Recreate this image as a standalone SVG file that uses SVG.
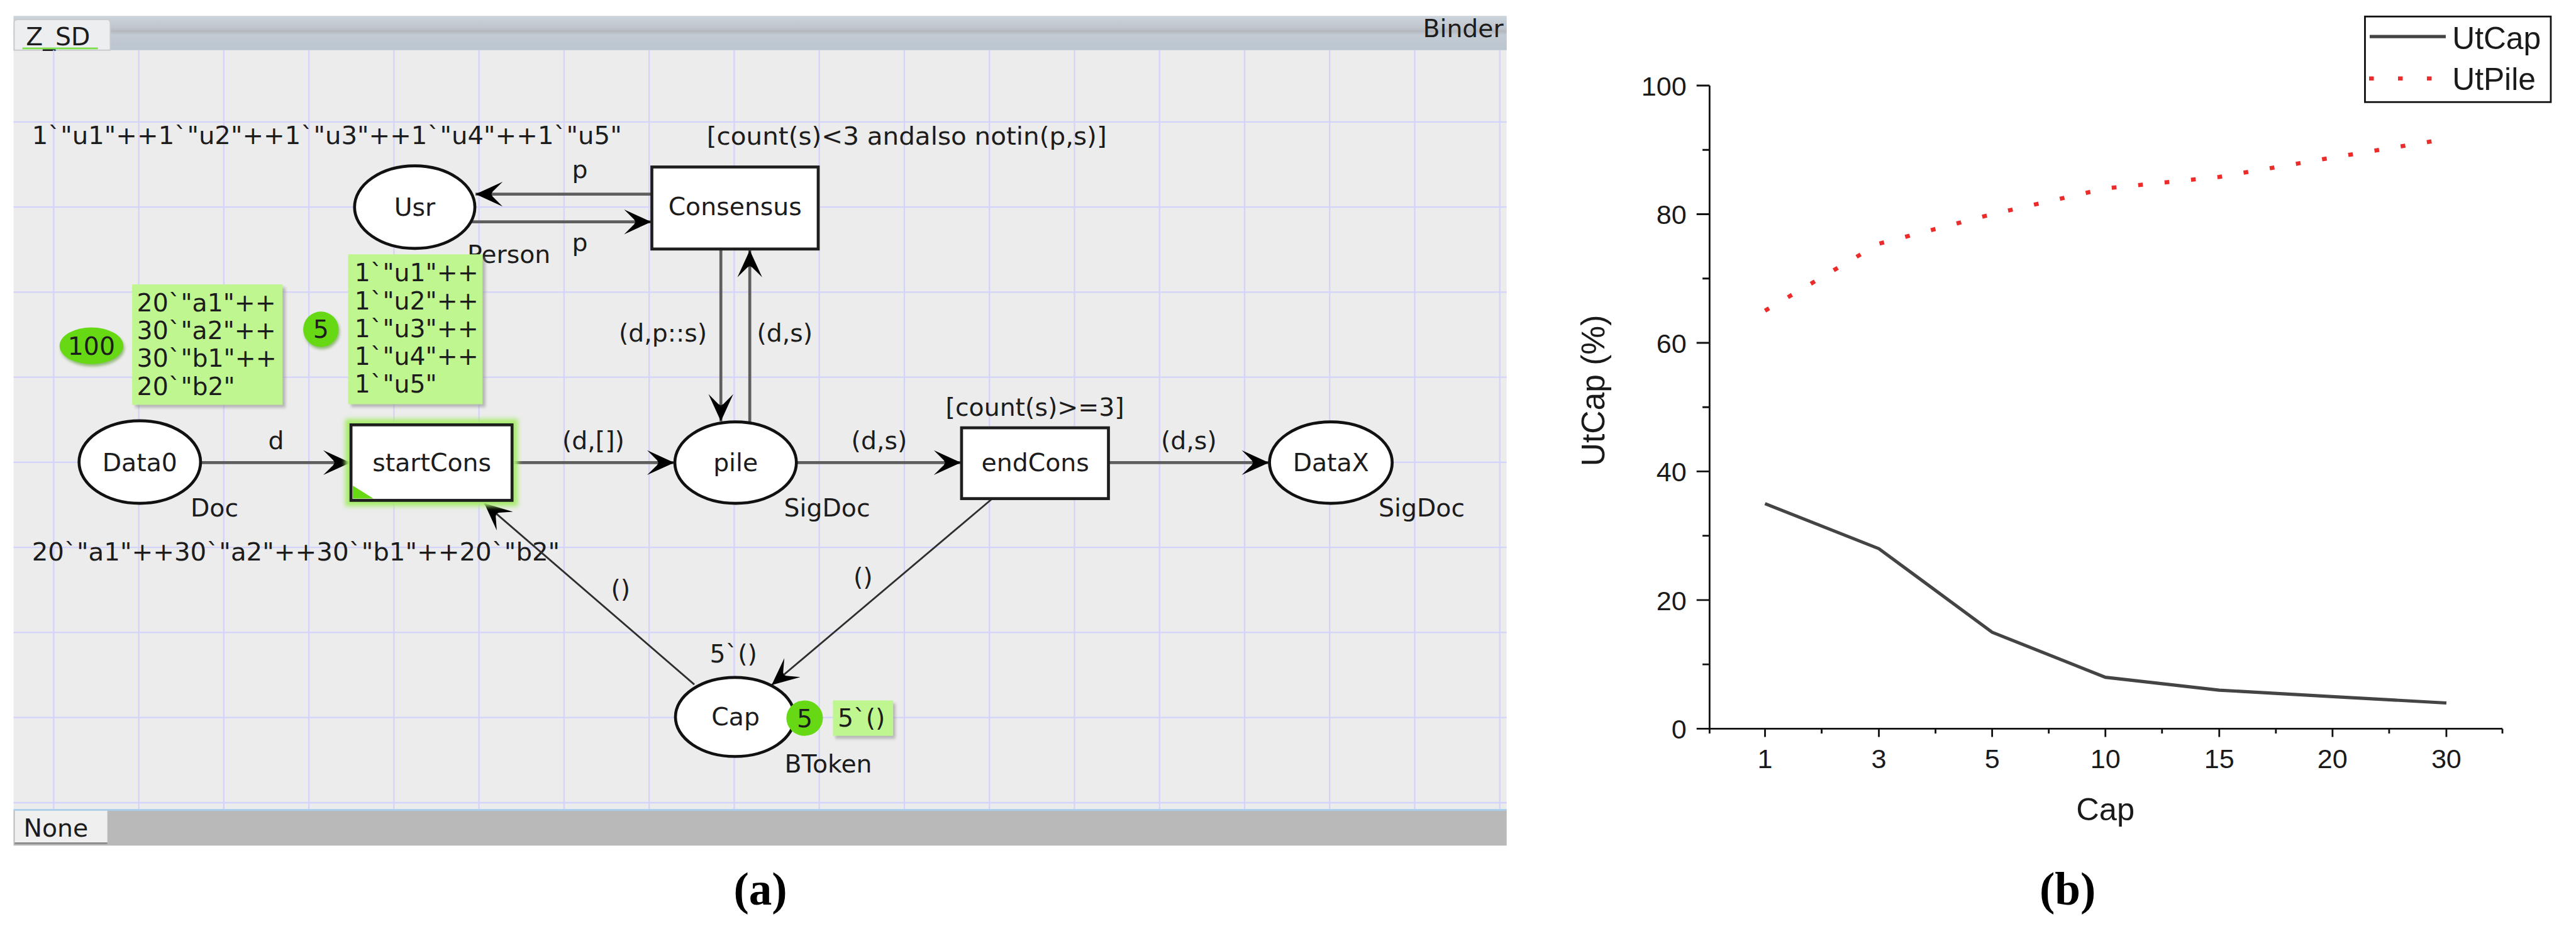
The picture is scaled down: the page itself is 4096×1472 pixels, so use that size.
<svg xmlns="http://www.w3.org/2000/svg" width="4096" height="1472" viewBox="0 0 4096 1472">
<defs>
<style>
.cpn{font-family:"DejaVu Sans","Liberation Sans",sans-serif;font-size:42px;fill:#1c1c1c}
.mid{text-anchor:middle}
.place{fill:#fff;stroke:#111;stroke-width:5}
.trans{fill:#fff;stroke:#1e1e1e;stroke-width:5}
.arc{stroke:#5e5e5e;stroke-width:5;fill:none}
.arcd{stroke:#2e2e2e;stroke-width:3;fill:none}
.grid{stroke:#d4d4fa;stroke-width:2.5;fill:none}
.tokbox{fill:#c0f690}
.tokshadow{fill:#8a8a8a;opacity:.55}
.token{fill:#66d814}
.chart{font-family:"Liberation Sans",Arial,sans-serif;fill:#1a1a1a}
.tick{font-size:46px}
.axis{stroke:#111;stroke-width:3;fill:none}
.cap{font-family:"Liberation Serif","Times New Roman",serif;font-weight:bold;font-size:78px;fill:#000;text-anchor:middle}
</style>
<linearGradient id="tabbar" x1="0" y1="0" x2="0" y2="1">
<stop offset="0" stop-color="#ccd4dc"/>
<stop offset="0.35" stop-color="#bfc5cc"/>
<stop offset="0.45" stop-color="#b4b8be"/>
<stop offset="0.55" stop-color="#c2cad3"/>
<stop offset="1" stop-color="#bcc6d0"/>
</linearGradient>
<filter id="blur" x="-20%" y="-20%" width="140%" height="140%"><feGaussianBlur stdDeviation="4"/></filter>
<filter id="soft" x="-20%" y="-20%" width="140%" height="140%"><feGaussianBlur stdDeviation="2.5"/></filter>
<marker id="ah" viewBox="-50 -25 52 50" markerWidth="52" markerHeight="50" refX="0" refY="0" orient="auto" markerUnits="userSpaceOnUse">
<path d="M0,0 L-46,-21 L-29,-4 L-27,0 L-29,4 L-46,21 Z" fill="#000"/>
</marker>
</defs>
<rect width="4096" height="1472" fill="#fff"/>
<g transform="scale(0.938)">
<!-- panel (a) frame -->
<g id="panel-a">
<rect x="23" y="27" width="2531" height="1406" fill="#ececec"/>
<rect x="23" y="27" width="2531" height="58" fill="url(#tabbar)"/>
<path d="M24,85 V38 Q24,33 30,33 H182 Q187,33 187,40 V85 Z" fill="#eceeef" stroke="#c9ccd0" stroke-width="2"/>
<text class="cpn" x="44" y="77">Z_SD</text>
<line x1="38" y1="82" x2="166" y2="82" stroke="#7de04a" stroke-width="3"/>
<text class="cpn" x="2412" y="63" font-size="40">Binder</text>
<path class="grid" d="M91,85V1372M235.2,85V1372M379.4,85V1372M523.6,85V1372M667.8,85V1372M812,85V1372M956.2,85V1372M1100.4,85V1372M1244.6,85V1372M1388.8,85V1372M1533,85V1372M1677.2,85V1372M1821.4,85V1372M1965.6,85V1372M2109.8,85V1372M2254,85V1372M2398.2,85V1372M2542.4,85V1372M23,206.7H2554M23,350.9H2554M23,495.1H2554M23,639.3H2554M23,783.5H2554M23,927.7H2554M23,1071.9H2554M23,1216.1H2554M23,1360.3H2554"/>
<rect x="23" y="1372" width="2531" height="61" fill="#b9b9b9"/>
<line x1="23" y1="1372.5" x2="2554" y2="1372.5" stroke="#a9d0ef" stroke-width="3"/>
<rect x="25" y="1374" width="157" height="54" fill="#efefef"/>
<line x1="25" y1="1429" x2="182" y2="1429" stroke="#8c8c8c" stroke-width="3"/>
<text class="cpn" x="40" y="1418" font-size="44">None</text>
</g>

<!-- texts not attached to nodes -->
<g id="inscriptions">
<text class="cpn" x="54" y="244" textLength="1000" lengthAdjust="spacingAndGlyphs">1`"u1"++1`"u2"++1`"u3"++1`"u4"++1`"u5"</text>
<text class="cpn" x="1198" y="245" textLength="678" lengthAdjust="spacingAndGlyphs">[count(s)&lt;3 andalso notin(p,s)]</text>
<text class="cpn" x="54" y="950" textLength="895" lengthAdjust="spacingAndGlyphs">20`"a1"++30`"a2"++30`"b1"++20`"b2"</text>
<text class="cpn" x="1603" y="705">[count(s)&gt;=3]</text>
<text class="cpn" x="1203" y="1123">5`()</text>
<text class="cpn" x="792" y="446">Person</text>
<text class="cpn" x="323" y="875">Doc</text>
<text class="cpn" x="1329" y="875">SigDoc</text>
<text class="cpn" x="2337" y="875">SigDoc</text>
<text class="cpn" x="1330" y="1309">BToken</text>
</g>

<!-- connectors -->
<g id="connectors">
<line class="arc" x1="1105" y1="329" x2="806" y2="329" marker-end="url(#ah)"/>
<line class="arc" x1="800" y1="376" x2="1104" y2="376" marker-end="url(#ah)"/>
<line class="arc" x1="1222" y1="424" x2="1222" y2="714" marker-end="url(#ah)"/>
<line class="arc" x1="1271" y1="717" x2="1271" y2="424" marker-end="url(#ah)"/>
<line class="arc" x1="340" y1="784" x2="594" y2="784" marker-end="url(#ah)"/>
<line class="arc" x1="869" y1="784" x2="1143" y2="784" marker-end="url(#ah)"/>
<line class="arc" x1="1350" y1="784" x2="1629" y2="784" marker-end="url(#ah)"/>
<line class="arc" x1="1879" y1="784" x2="2151" y2="784" marker-end="url(#ah)"/>
<line class="arcd" x1="1177" y1="1160" x2="821" y2="853" marker-end="url(#ah)"/>
<line class="arcd" x1="1681" y1="846" x2="1308" y2="1161" marker-end="url(#ah)"/>
<text class="cpn mid" x="983" y="302">p</text>
<text class="cpn mid" x="983" y="425">p</text>
<text class="cpn" x="1049" y="579">(d,p::s)</text>
<text class="cpn" x="1283" y="579">(d,s)</text>
<text class="cpn mid" x="468" y="761">d</text>
<text class="cpn" x="953" y="761">(d,[])</text>
<text class="cpn" x="1443" y="761">(d,s)</text>
<text class="cpn" x="1968" y="761">(d,s)</text>
<text class="cpn mid" x="1052" y="1013">()</text>
<text class="cpn mid" x="1463" y="993">()</text>
</g>

<!-- nodes -->
<g id="Usr">
<ellipse class="place" cx="703" cy="351" rx="102" ry="70"/>
<text class="cpn mid" x="703" y="366">Usr</text>
</g>
<g id="Consensus">
<rect class="trans" x="1105" y="283" width="282" height="139"/>
<text class="cpn mid" x="1246" y="365">Consensus</text>
</g>
<g id="Data0">
<ellipse class="place" cx="237" cy="783" rx="103" ry="70"/>
<text class="cpn mid" x="237" y="799">Data0</text>
</g>
<g id="startCons">
<rect x="595" y="720" width="273" height="128" fill="none" stroke="#a8ec6e" stroke-width="20" filter="url(#blur)"/>
<rect class="trans" x="595" y="720" width="273" height="128" stroke="#1e3a10"/>
<path d="M598,823 L633,845 L598,845 Z" fill="#66d814"/>
<text class="cpn mid" x="732" y="798">startCons</text>
</g>
<g id="pile">
<ellipse class="place" cx="1247" cy="784" rx="103" ry="69"/>
<text class="cpn mid" x="1247" y="799">pile</text>
</g>
<g id="endCons">
<rect class="trans" x="1630" y="725" width="249" height="120"/>
<text class="cpn mid" x="1755" y="799">endCons</text>
</g>
<g id="DataX">
<ellipse class="place" cx="2256" cy="784" rx="104" ry="69"/>
<text class="cpn mid" x="2256" y="799">DataX</text>
</g>
<g id="Cap">
<ellipse class="place" cx="1246" cy="1215" rx="101" ry="67"/>
<text class="cpn mid" x="1247" y="1229">Cap</text>
</g>

<!-- markings -->
<g id="Data0-marking">
<rect class="tokshadow" x="229" y="487" width="255" height="204" filter="url(#soft)"/>
<rect class="tokbox" x="224" y="482" width="255" height="204"/>
<text class="cpn" x="232" y="528">20`"a1"++</text>
<text class="cpn" x="232" y="575">30`"a2"++</text>
<text class="cpn" x="232" y="622">30`"b1"++</text>
<text class="cpn" x="232" y="669">20`"b2"</text>
<ellipse cx="157" cy="590" rx="54" ry="31" fill="#3c8a10" opacity=".5" filter="url(#soft)"/>
<ellipse class="token" cx="155" cy="586" rx="54" ry="31"/>
<text class="cpn mid" x="155" y="601">100</text>
</g>
<g id="Usr-marking">
<rect class="tokshadow" x="595" y="436" width="228" height="254" filter="url(#soft)"/>
<rect class="tokbox" x="590" y="431" width="228" height="254"/>
<text class="cpn" x="601" y="477">1`"u1"++</text>
<text class="cpn" x="601" y="524">1`"u2"++</text>
<text class="cpn" x="601" y="571">1`"u3"++</text>
<text class="cpn" x="601" y="618">1`"u4"++</text>
<text class="cpn" x="601" y="665">1`"u5"</text>
<ellipse cx="546" cy="562" rx="30" ry="30" fill="#3c8a10" opacity=".5" filter="url(#soft)"/>
<ellipse class="token" cx="544" cy="558" rx="30" ry="30"/>
<text class="cpn mid" x="544" y="573">5</text>
</g>
<g id="Cap-marking">
<rect class="tokshadow" x="1416" y="1192" width="102" height="60" filter="url(#soft)"/>
<rect class="tokbox" x="1412" y="1187" width="102" height="60"/>
<text class="cpn" x="1420" y="1231">5`()</text>
<ellipse class="token" cx="1364" cy="1217" rx="31" ry="30"/>
<text class="cpn mid" x="1364" y="1232">5</text>
</g>

<text class="cap" x="1289" y="1533">(a)</text>

<!-- chart (b) -->
<g id="chart" class="chart">
<path class="axis" d="M2898,145V1235H4242"/>
<path class="axis" d="M2876,1235H2898M2876,1017H2898M2876,799H2898M2876,581H2898M2876,363H2898M2876,145H2898M2886,1126H2898M2886,908H2898M2886,690H2898M2886,472H2898M2886,254H2898"/>
<path class="axis" d="M2992,1235V1249M3185,1235V1249M3377,1235V1249M3569,1235V1249M3762,1235V1249M3954,1235V1249M4147,1235V1249M2898,1235V1243M3088,1235V1243M3281,1235V1243M3473,1235V1243M3665,1235V1243M3858,1235V1243M4050,1235V1243M4242,1235V1243"/>
<g class="tick" text-anchor="end">
<text x="2859" y="1252">0</text>
<text x="2859" y="1034">20</text>
<text x="2859" y="816">40</text>
<text x="2859" y="598">60</text>
<text x="2859" y="380">80</text>
<text x="2859" y="162">100</text>
</g>
<g class="tick" text-anchor="middle">
<text x="2992" y="1302">1</text>
<text x="3185" y="1302">3</text>
<text x="3377" y="1302">5</text>
<text x="3569" y="1302">10</text>
<text x="3762" y="1302">15</text>
<text x="3954" y="1302">20</text>
<text x="4147" y="1302">30</text>
</g>
<text x="3569" y="1390" font-size="54" text-anchor="middle">Cap</text>
<text transform="translate(2720,662) rotate(-90)" font-size="55" text-anchor="middle">UtCap (%)</text>
<polyline points="2992,853.5 3185,929.8 3377,1071.5 3569,1147.8 3762,1169.6 3954,1180.5 4147,1191.4" fill="none" stroke="#444" stroke-width="5.5"/>
<polyline points="2992,526.5 3185,413 3377,363 3569,319.4 3762,299.8 3954,267 4147,235.5" fill="none" stroke="#ec2b2b" stroke-width="7" stroke-dasharray="8 37"/>
<g id="legend">
<rect x="4009" y="28" width="315" height="145" fill="#fff" stroke="#111" stroke-width="3"/>
<line x1="4017" y1="62" x2="4146" y2="62" stroke="#444" stroke-width="5.5"/>
<line x1="4016" y1="133" x2="4146" y2="133" stroke="#ec2b2b" stroke-width="7" stroke-dasharray="8 41"/>
<text x="4157" y="83" font-size="53">UtCap</text>
<text x="4157" y="152" font-size="53">UtPile</text>
</g>
</g>
<text class="cap" x="3505" y="1533">(b)</text>
</g>
</svg>
